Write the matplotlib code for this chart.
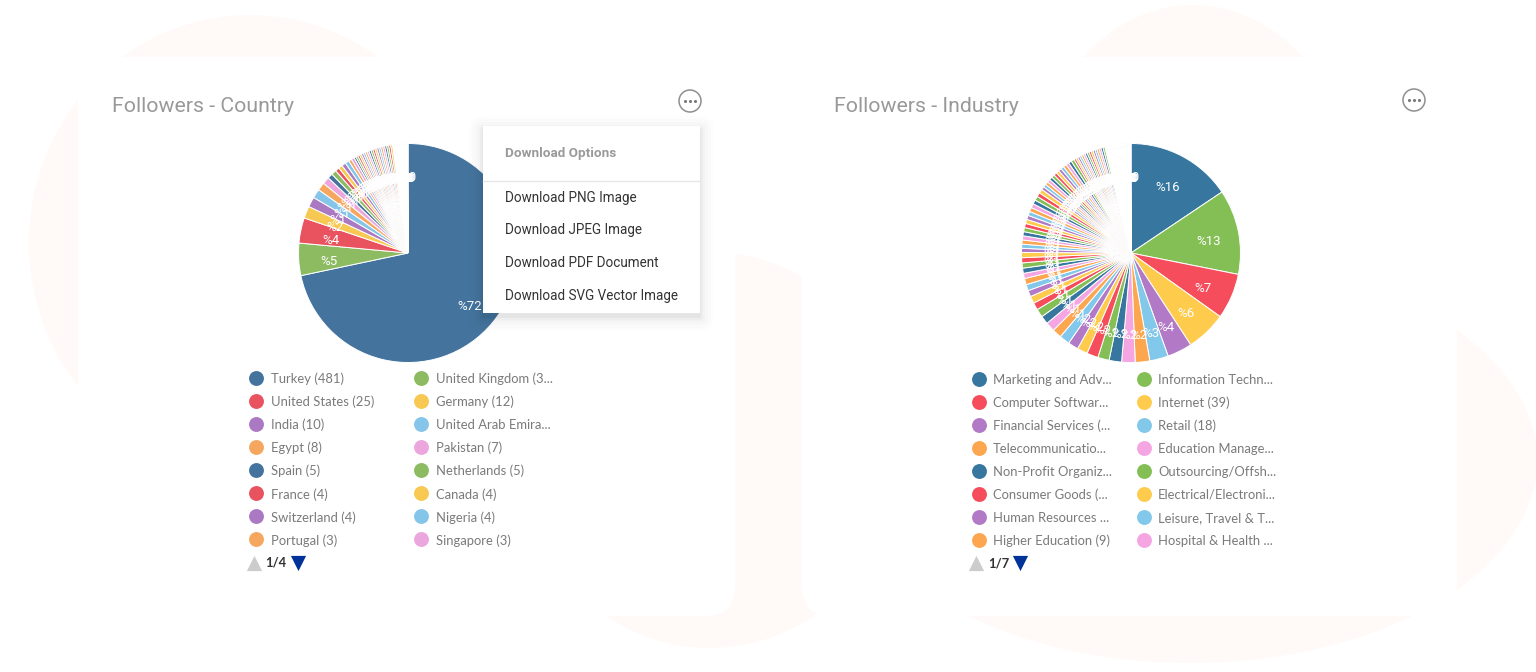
import matplotlib
matplotlib.use("Agg")
import matplotlib.pyplot as plt
from matplotlib.patches import Ellipse, FancyBboxPatch, Rectangle, Circle

W, H = 1536, 672

# ---- data
country_names = ["Turkey (481)", "United Kingdom (3...", "United States (25)", "Germany (12)",
                 "India (10)", "United Arab Emira...", "Egypt (8)", "Pakistan (7)",
                 "Spain (5)", "Netherlands (5)", "France (4)", "Canada (4)",
                 "Switzerland (4)", "Nigeria (4)", "Portugal (3)", "Singapore (3)"]
country_top = [481, 32, 25, 12, 10, 9, 8, 7, 5, 5, 4, 4, 4, 4, 3, 3]
# the rest of the countries, not on legend page 1
country_rest = [2, 2, 2, 2, 2, 2, 2, 2, 2, 2, 2, 2, 2, 2, 2, 2, 2, 2, 2, 2,
                1, 1, 1, 1, 1, 1, 1, 1, 1, 1, 1, 1, 1, 1, 1]

industry_names = ["Marketing and Adv...", "Information Techn...", "Computer Softwar...", "Internet (39)",
                  "Financial Services (...", "Retail (18)", "Telecommunicatio...", "Education Manage...",
                  "Non-Profit Organiz...", "Outsourcing/Offsh...", "Consumer Goods (...", "Electrical/Electroni...",
                  "Human Resources ...", "Leisure, Travel & T...", "Higher Education (9)", "Hospital & Health ..."]
industry_top = [102, 82, 44, 39, 24, 18, 14, 13, 12, 11, 11, 10, 10, 10, 9, 9]
industry_rest = [8, 8, 7, 7, 6, 6, 6, 5, 5, 5, 5, 5,
                 4, 4, 4, 4, 4, 4, 4, 4, 4, 4, 4, 4, 4, 4, 4, 4,
                 3, 3, 3, 3, 3, 3, 3, 3, 3, 3, 3, 3, 3, 3,
                 2, 2, 2, 2, 2, 2, 2, 2, 2, 2, 2, 2, 2, 2, 2, 2,
                 1, 1, 1, 1, 1, 1, 1, 1, 1, 1, 1, 1, 1, 1, 1, 1, 1, 1, 1, 1, 1, 1, 1, 1, 1]

menu_items = ["Download PNG Image", "Download JPEG Image", "Download PDF Document", "Download SVG Vector Image"]

colors_left = ["#44749D", "#8DBB62", "#E8535F", "#F7C953", "#AB79C2", "#86C5EA", "#F5A760", "#EBA6DE"]
colors_right = ["#36769F", "#84BF55", "#F64D5C", "#FECB4D", "#B27AC6", "#82C8EA", "#FCA650", "#F4A5E2"]

PEACH = "#FFFAF7"

fig = plt.figure(figsize=(W / 100, H / 100), dpi=100, facecolor="white")

# background blobs and white cards, in pixel coordinates
bg = fig.add_axes([0, 0, 1, 1], zorder=0)
bg.set_xlim(0, W)
bg.set_ylim(H, 0)
bg.axis("off")
for cx, cy, rx, ry in [(250, 243, 221, 228), (710, 450, 190, 198), (1193, 230, 172, 225), (1190, 460, 347, 203)]:
    bg.add_patch(Ellipse((cx, cy), 2 * rx, 2 * ry, color=PEACH, lw=0))
for x0, x1 in [(78, 735), (802, 1457)]:
    bg.add_patch(FancyBboxPatch((x0 + 30, 57 + 30), x1 - x0 - 60, 559 - 60, boxstyle="round,pad=30,rounding_size=30",
                                fc="white", ec="none"))
    bg.add_patch(Rectangle((x0, 57), x1 - x0, 100, fc="white", ec="none"))


def draw_pie(cx, cy, values, colors):
    r = 109.5
    m = 1.05
    ax = fig.add_axes([(cx - r * m) / W, 1 - (cy + r * m) / H, 2 * r * m / W, 2 * r * m / H], zorder=1)
    wedges, _, pcts = ax.pie(values, colors=colors, startangle=90, counterclock=False, radius=1,
                             wedgeprops={"edgecolor": "white", "linewidth": 0.7},
                             autopct=lambda p: "%" + str(int(round(p))), pctdistance=0.72,
                             textprops={"color": "white", "fontsize": 9.5, "family": "Roboto"})
    # tiny slices disappear under their borders
    for wedge, v in zip(wedges, values):
        if v == 1:
            wedge.set_linewidth(1.0)
    # labels sit a little below the middle of the ring
    for t in pcts:
        t.set_y(t.get_position()[1] - 0.035)
    ax.set_xlim(-m, m)
    ax.set_ylim(-m, m)
    ax.set_aspect("equal")


draw_pie(408, 253, country_top + country_rest, colors_left)
draw_pie(1131, 253, industry_top + industry_rest, colors_right)

# everything on top of the pies
top = fig.add_axes([0, 0, 1, 1], zorder=2)
top.set_xlim(0, W)
top.set_ylim(H, 0)
top.axis("off")
top.patch.set_alpha(0)

top.text(112, 107, "Followers - Country", color="#999999", fontsize=15.3, family="Roboto", va="center")
top.text(834, 106.5, "Followers - Industry", color="#999999", fontsize=15.3, family="Roboto", va="center")


def draw_icon(cx, cy):
    top.add_patch(Circle((cx, cy), 11, fc="white", ec="#8F8F8F", lw=1.1))
    top.scatter([cx - 5, cx, cx + 5], [cy, cy, cy], s=5, color="#7A7A7A", lw=0)


draw_icon(690, 101)
draw_icon(1414, 100)

# download menu with its soft shadow
for grow, a in [(14, 0.008), (11, 0.01), (8, 0.013), (5, 0.016), (3, 0.022), (1, 0.03)]:
    top.add_patch(FancyBboxPatch((483, 130), 217, 187, boxstyle="round,pad=%d,rounding_size=%d" % (grow, grow),
                                 fc="black", ec="none", alpha=a))
top.add_patch(Rectangle((483, 126), 217, 187, fc="white", ec="none"))
top.plot([483, 700], [181, 181], color="#E6E6E6", lw=1)
top.text(505, 153, "Download Options", color="#9A9A9A", fontsize=9.7, family="Roboto", weight="bold", va="center")
for label, y in zip(menu_items, [198, 230, 263, 296]):
    top.text(505, y, label, color="#333333", fontsize=9.75, family="Roboto", va="center")


def draw_legend(names, colors, dot_x, text_x, y0, page, arrows):
    for i, name in enumerate(names):
        col = i % 2
        row = i // 2
        y = y0 + row * 23.05
        top.scatter(dot_x[col], y - 1, s=115, color=colors[i % 8], lw=0)
        top.text(text_x[col], y, name, color="#7A7A7A", fontsize=9.4, family="Lato", va="center")
    a0, t, a1 = arrows
    ya = y0 + 8 * 23.05 - 0.5
    top.scatter(a0, ya, s=120, marker="^", color="#CCCCCC", lw=0)
    top.text(t, ya, page, color="#333333", fontsize=9.4, family="Lato", weight="bold", va="center")
    top.scatter(a1, ya, s=120, marker="v", color="#003399", lw=0)


draw_legend(country_names, colors_left, [256, 421], [271, 436], 379, "1/4", (254, 265, 298))
draw_legend(industry_names, colors_right, [979, 1144], [993, 1158], 379.5, "1/7", (976, 988, 1020))

fig.savefig("out.png", dpi=100)
